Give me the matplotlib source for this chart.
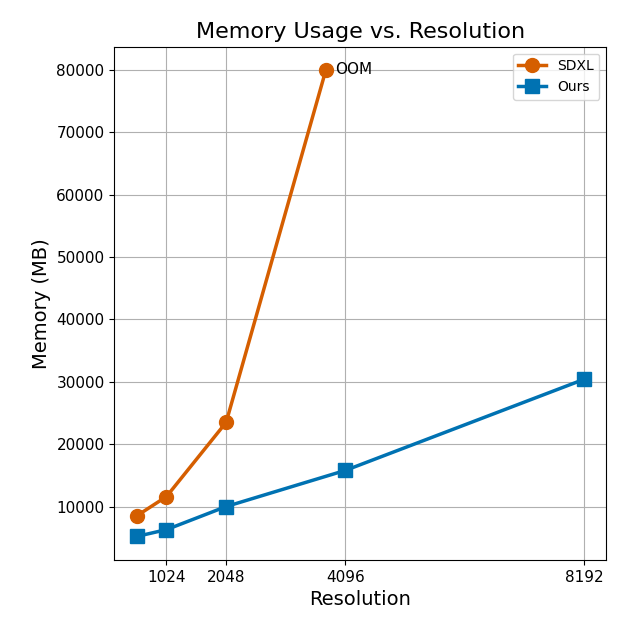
import matplotlib.pyplot as plt

res_sdxl = [512, 1024, 2048, 3760]
mem_sdxl = [8500, 11600, 23500, 80000]
res_ours = [512, 1024, 2048, 4096, 8192]
mem_ours = [5200, 6300, 10000, 15800, 30400]
xticks = [1024, 2048, 4096, 8192]

fig, ax = plt.subplots(figsize=(6.35, 6.22), dpi=100)
ax.plot(res_sdxl, mem_sdxl, '-o', color='#d55e00', linewidth=2.5, markersize=10, label='SDXL')
ax.plot(res_ours, mem_ours, '-s', color='#0072b2', linewidth=2.5, markersize=10, label='Ours')
ax.annotate('OOM', (res_sdxl[-1], mem_sdxl[-1]), xytext=(7, 0), textcoords='offset points',
            va='center', fontsize=11)
ax.set_xticks(xticks)
ax.tick_params(labelsize=11)
ax.set_xlabel('Resolution', fontsize=14)
ax.set_ylabel('Memory (MB)', fontsize=14)
ax.set_title('Memory Usage vs. Resolution', fontsize=16)
ax.grid(True)
ax.legend(loc='upper right')
plt.subplots_adjust(left=0.18, right=0.955, top=0.925, bottom=0.1)
fig.savefig('out.png')
